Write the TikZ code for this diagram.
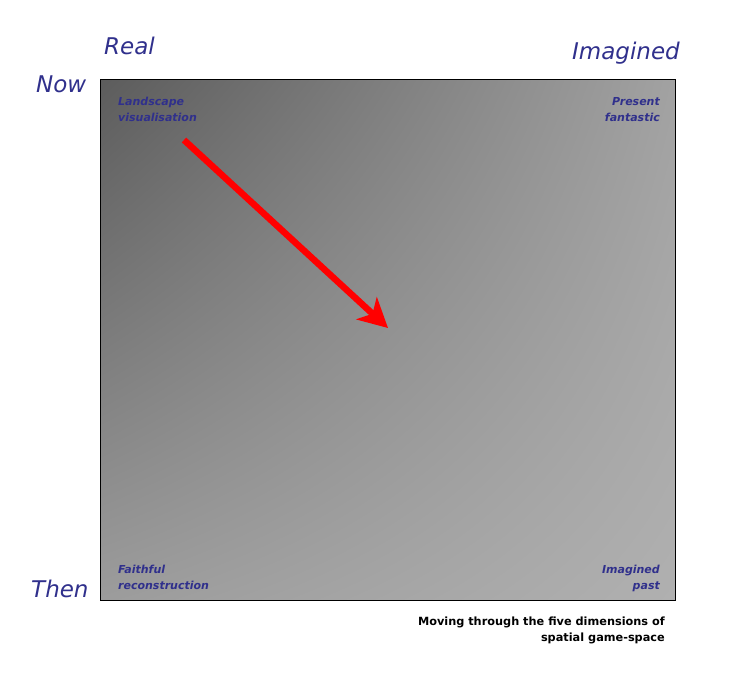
\documentclass[tikz,border=0pt]{standalone}
\usepackage{fontspec}
\setmainfont{DejaVu Sans}
\usetikzlibrary{arrows.meta,shadings}
\definecolor{labblue}{RGB}{48,48,140}
\definecolor{tl}{RGB}{92,92,92}
\definecolor{tr}{RGB}{162,162,162}
\definecolor{bl}{RGB}{156,156,156}
\definecolor{br}{RGB}{176,176,176}
\begin{document}
\begin{tikzpicture}[x=1pt,y=-1pt,
  axislab/.style={inner sep=0pt,text=labblue,font=\fontsize{23}{27}\selectfont\itshape},
  cornerlab/.style={inner sep=0pt,text=labblue,font=\fontsize{11}{16}\selectfont\bfseries\itshape},
  caption/.style={inner sep=0pt,text=black,font=\fontsize{11.3}{16}\selectfont\bfseries,align=right},
  redarrow/.style={draw=red,line width=6.5pt,-{Stealth[length=29pt,width=30pt,inset=8pt]}}]
\useasboundingbox (0,0) rectangle (735,673);
\fill[white] (0,0) rectangle (735,673);
% panel
\shade[upper left=tl,upper right=tr,lower left=bl,lower right=br] (100,79) rectangle (675,600);
\node[draw=black,line width=1.2pt,inner sep=0pt,minimum width=575pt,minimum height=521pt,anchor=north west] (panel) at (100,79) {};
% axis labels
\node[axislab,anchor=base west] (real) at (104,54) {Real};
\node[axislab,anchor=base east] (imag) at (680,59) {Imagined};
\node[axislab,anchor=base west] (now) at (36,92) {Now};
\node[axislab,anchor=base west] (then) at (31,597) {Then};
% corner labels (base anchor = baseline of last line)
\node[cornerlab,anchor=base west,align=left] (lv) at (118,121) {Landscape\\visualisation};
\node[cornerlab,anchor=base east,align=right] (pf) at (660,121) {Present\\fantastic};
\node[cornerlab,anchor=base west,align=left] (fr) at (118,589) {Faithful\\reconstruction};
\node[cornerlab,anchor=base east,align=right] (ip) at (660,589) {Imagined\\past};
% caption
\node[caption,anchor=base east] (cap) at (665,641) {Moving through the five dimensions of\\spatial game-space};
% arrow
\coordinate (astart) at (184,140);
\coordinate (aend) at (388,328);
\draw[redarrow] (astart) -- (aend);
\end{tikzpicture}
\end{document}
